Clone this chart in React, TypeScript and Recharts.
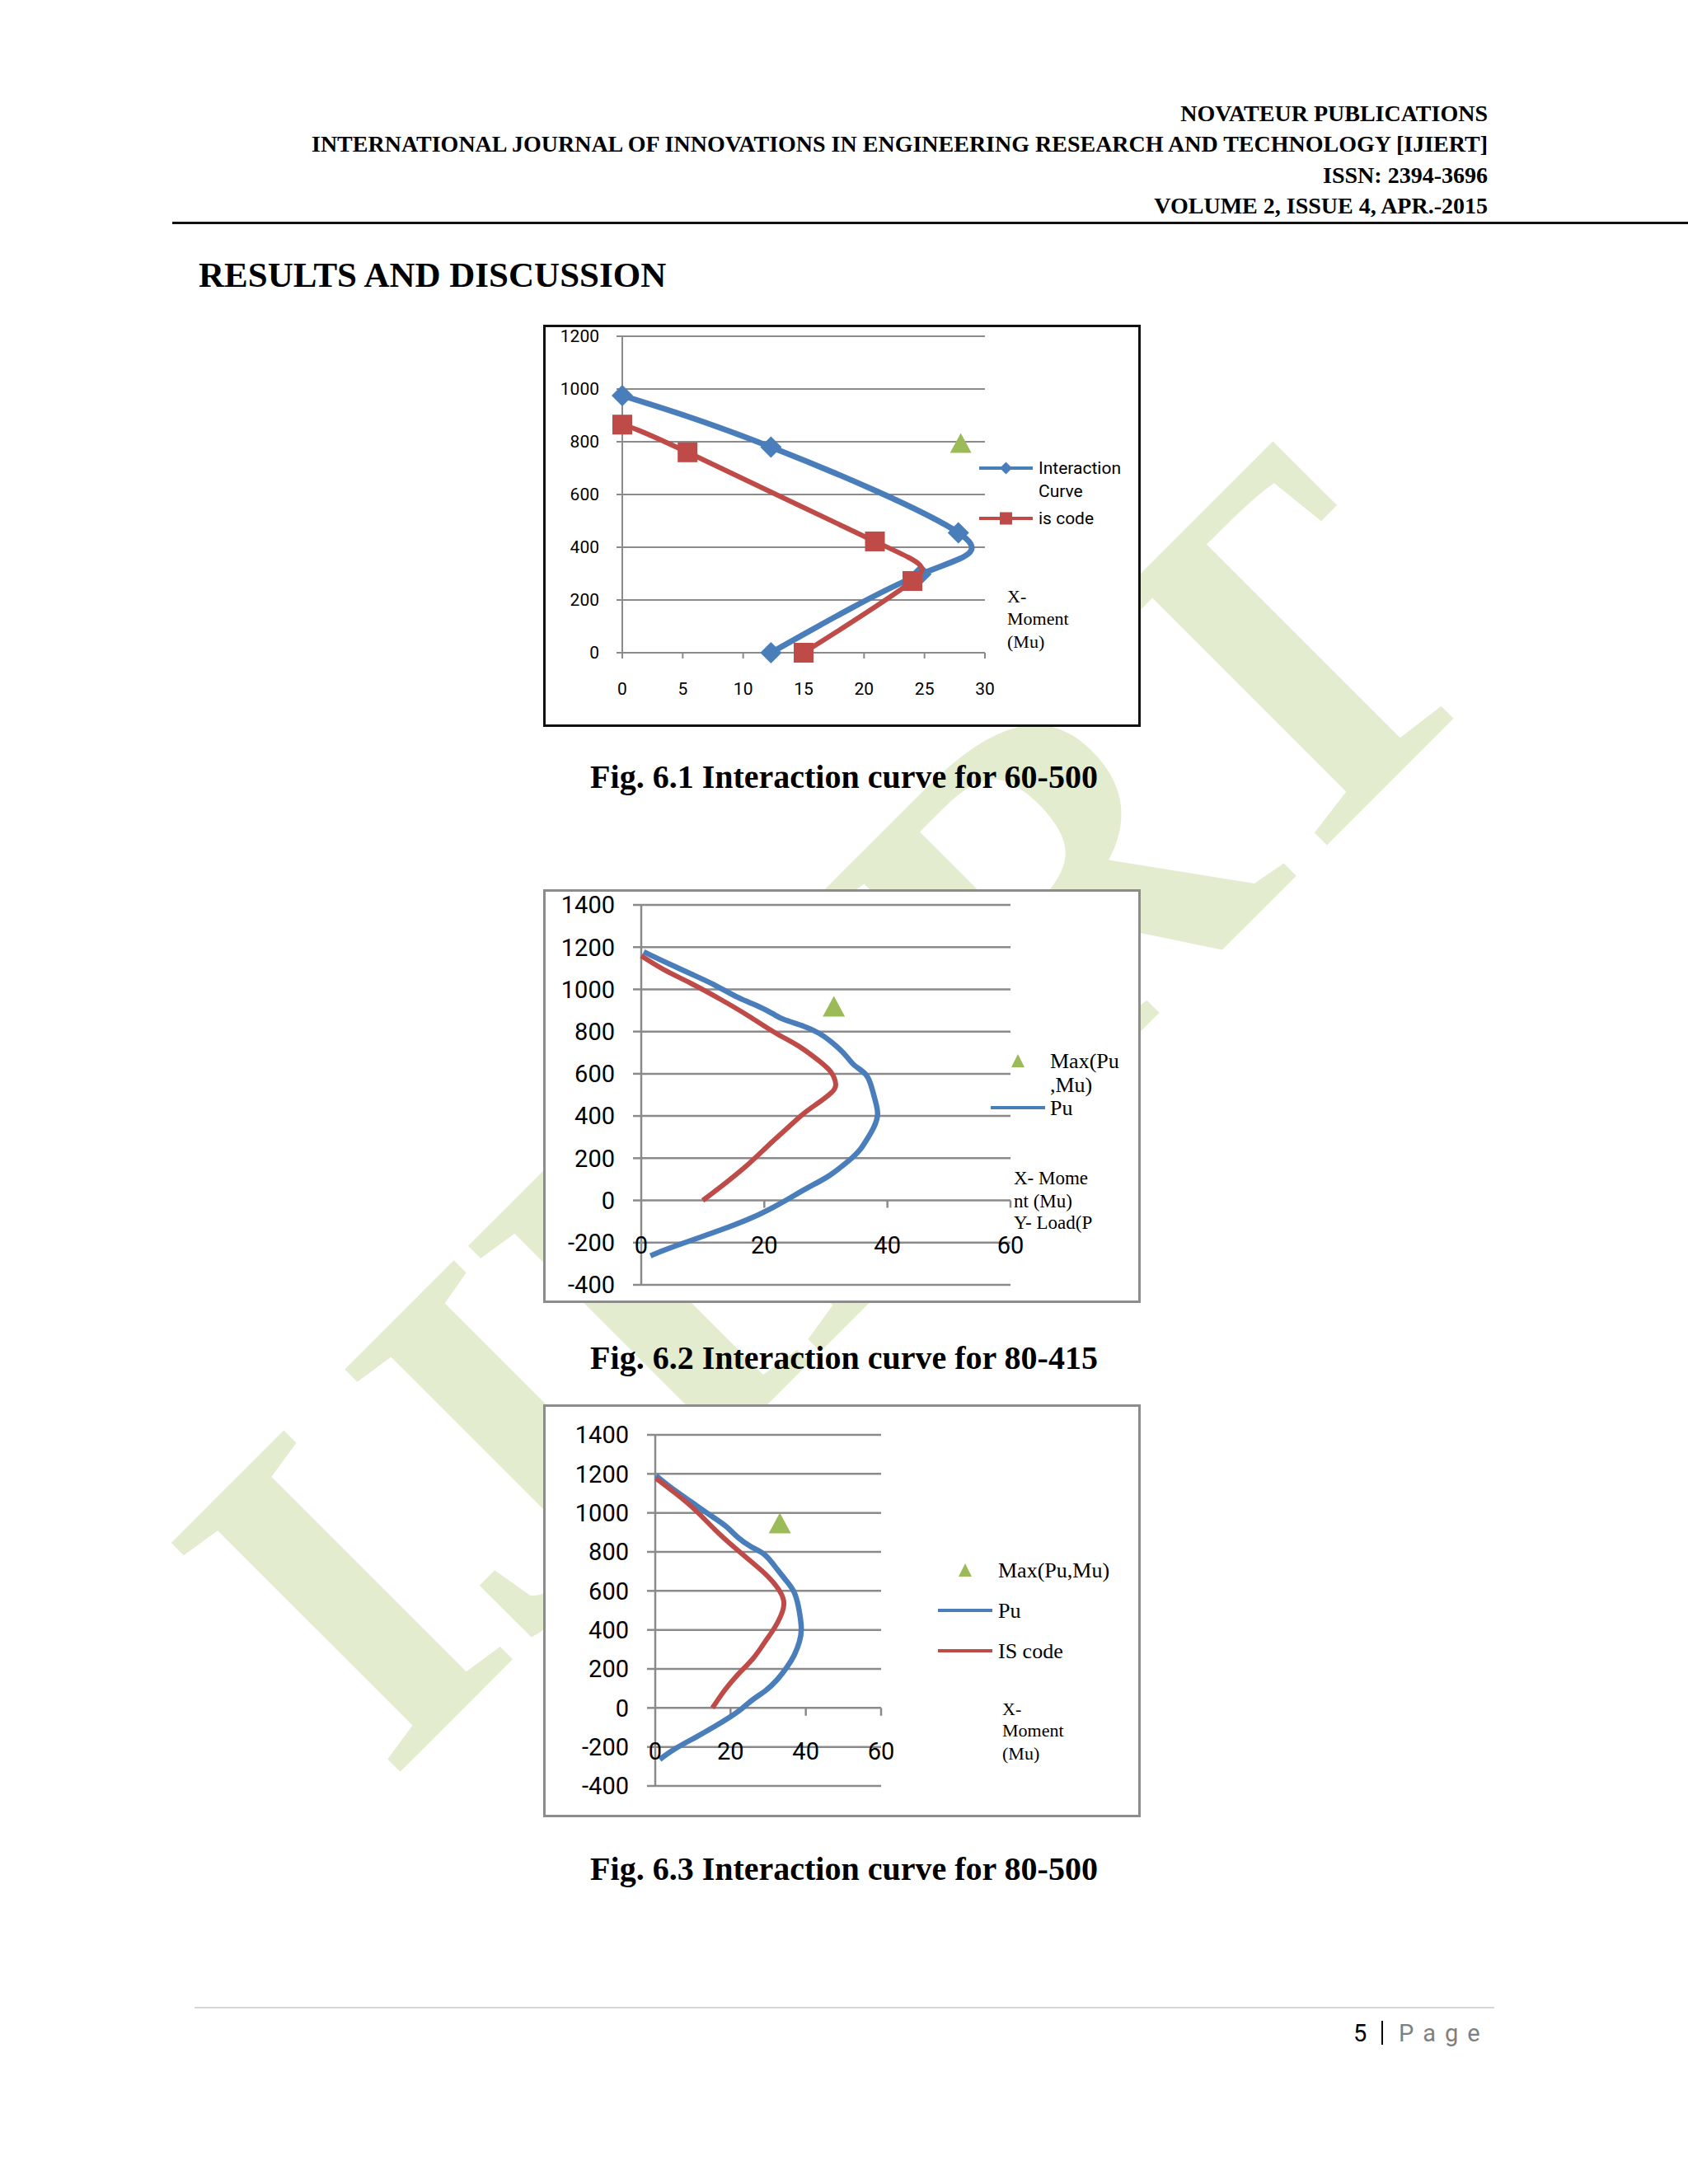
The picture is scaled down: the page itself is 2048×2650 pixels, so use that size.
import React from 'react'
import { ScatterChart, Scatter, XAxis, YAxis, CartesianGrid, ReferenceLine } from 'recharts'

type Pt = { x: number; y: number }

// Fig. 6.1 — 60-500
const fig1Interaction: Pt[] = [
  { x: 0, y: 975 }, { x: 12.3, y: 780 }, { x: 27.8, y: 455 }, { x: 24.7, y: 298 }, { x: 12.3, y: 0 },
]
const fig1IsCode: Pt[] = [
  { x: 0, y: 865 }, { x: 5.4, y: 760 }, { x: 20.9, y: 422 }, { x: 24.0, y: 272 }, { x: 15.0, y: 0 },
]
const fig1Max: Pt[] = [{ x: 28, y: 795 }]
const fig1XTicks = [0, 5, 10, 15, 20, 25, 30]
const fig1YTicks = [0, 200, 400, 600, 800, 1000, 1200]

// Fig. 6.2 — 80-415
const fig2Pu: Pt[] = [
  { x: 0.4, y: 1178 }, { x: 3.7, y: 1132 }, { x: 8.1, y: 1073 }, { x: 11.9, y: 1021 }, { x: 15.7, y: 962 },
  { x: 18.8, y: 923 }, { x: 21.4, y: 884 }, { x: 23.2, y: 857 }, { x: 26.4, y: 825 }, { x: 28.9, y: 792 },
  { x: 30.8, y: 753 }, { x: 33.0, y: 694 }, { x: 34.6, y: 641 }, { x: 36.5, y: 596 }, { x: 37.5, y: 530 },
  { x: 38.1, y: 465 }, { x: 38.4, y: 406 }, { x: 37.8, y: 347 }, { x: 36.8, y: 295 }, { x: 35.6, y: 242 },
  { x: 34.3, y: 203 }, { x: 32.7, y: 164 }, { x: 30.2, y: 111 }, { x: 27.0, y: 59 }, { x: 23.9, y: 7 },
  { x: 21.4, y: -33 }, { x: 18.2, y: -79 }, { x: 14.4, y: -124 }, { x: 10.6, y: -164 }, { x: 6.8, y: -203 },
  { x: 3.7, y: -236 }, { x: 1.5, y: -262 },
]
const fig2IsCode: Pt[] = [
  { x: 0, y: 1159 }, { x: 3.7, y: 1093 }, { x: 8.1, y: 1028 }, { x: 13.1, y: 949 }, { x: 17.6, y: 871 },
  { x: 21.9, y: 792 }, { x: 25.8, y: 727 }, { x: 28.9, y: 661 }, { x: 30.8, y: 609 }, { x: 31.6, y: 550 },
  { x: 30.9, y: 511 }, { x: 28.9, y: 465 }, { x: 26.4, y: 412 }, { x: 23.9, y: 347 }, { x: 20.7, y: 262 },
  { x: 17.6, y: 177 }, { x: 13.8, y: 85 }, { x: 10.0, y: 0 },
]
const fig2Max: Pt[] = [{ x: 31.3, y: 920 }]
const fig2XTicks = [0, 20, 40, 60]
const fig2YTicks = [-400, -200, 0, 200, 400, 600, 800, 1000, 1200, 1400]

// Fig. 6.3 — 80-500
const fig3Pu: Pt[] = [
  { x: 0.2, y: 1191 }, { x: 4.3, y: 1128 }, { x: 9.5, y: 1057 }, { x: 14.7, y: 987 }, { x: 18.8, y: 931 },
  { x: 21.9, y: 875 }, { x: 25.6, y: 825 }, { x: 29.2, y: 783 }, { x: 32.3, y: 713 }, { x: 34.9, y: 650 },
  { x: 36.9, y: 593 }, { x: 38.0, y: 523 }, { x: 38.5, y: 467 }, { x: 38.8, y: 404 }, { x: 38.3, y: 340 },
  { x: 36.9, y: 270 }, { x: 34.9, y: 207 }, { x: 32.3, y: 143 }, { x: 29.2, y: 87 }, { x: 26.1, y: 45 },
  { x: 23.0, y: -4 }, { x: 19.9, y: -46 }, { x: 15.7, y: -96 }, { x: 10.6, y: -152 }, { x: 5.4, y: -208 },
  { x: 1.2, y: -264 },
]
const fig3IsCode: Pt[] = [
  { x: 0.2, y: 1177 }, { x: 5.4, y: 1100 }, { x: 10.6, y: 1015 }, { x: 15.7, y: 917 }, { x: 20.9, y: 825 },
  { x: 25.6, y: 748 }, { x: 29.7, y: 678 }, { x: 32.8, y: 607 }, { x: 34.1, y: 551 }, { x: 33.8, y: 495 },
  { x: 31.7, y: 411 }, { x: 29.2, y: 340 }, { x: 26.1, y: 256 }, { x: 22.0, y: 172 }, { x: 18.3, y: 87 },
  { x: 15.2, y: 0 },
]
const fig3Max: Pt[] = [{ x: 33.1, y: 948 }]
const fig3XTicks = [0, 20, 40, 60]
const fig3YTicks = [-400, -200, 0, 200, 400, 600, 800, 1000, 1200, 1400]

const headerLines = [
  'NOVATEUR PUBLICATIONS',
  'INTERNATIONAL JOURNAL OF INNOVATIONS IN ENGINEERING RESEARCH AND TECHNOLOGY [IJIERT]',
  'ISSN: 2394-3696',
  'VOLUME 2, ISSUE 4, APR.-2015',
]
const sectionTitle = 'RESULTS AND DISCUSSION'
const captions = [
  'Fig. 6.1 Interaction curve for 60-500',
  'Fig. 6.2 Interaction curve for 80-415',
  'Fig. 6.3 Interaction curve for 80-500',
]

const BLUE = '#4a7ebb'
const RED = '#be4b48'
const GREEN = '#9bbb59'
const GRID = '#8a8a8a'
const SERIF = '"Liberation Serif", "Times New Roman", serif'
const SANS = 'Roboto, "Liberation Sans", sans-serif'

const diamond = (d: number, fill: string) => (p: any) => {
  const { cx, cy } = p
  const r = d / 2
  return <polygon points={`${cx},${cy - r} ${cx + r},${cy} ${cx},${cy + r} ${cx - r},${cy}`} fill={fill} />
}
const square = (s: number, fill: string) => (p: any) => (
  <rect x={p.cx - s / 2} y={p.cy - s / 2} width={s} height={s} fill={fill} />
)
const triangle = (w: number, h: number, fill: string) => (p: any) => {
  const { cx, cy } = p
  return <polygon points={`${cx},${cy - h / 2} ${cx + w / 2},${cy + h / 2} ${cx - w / 2},${cy + h / 2}`} fill={fill} />
}
const noDot = () => <g />

type LegendItem = { lines: string[]; color: string; marker: 'diamond' | 'square' | 'triangle' | 'line' }

function LegendSvg(props: {
  w: number
  h: number
  items: LegendItem[]
  ys: number[]
  x1: number
  x2: number
  tx: number
  gap: number
  font: string
  size: number
  note: string[]
  noteX: number
  noteYs: number[]
  noteSize: number
  markerSize: number
}) {
  const { items, ys, x1, x2, tx, gap, font, size, note, noteX, noteYs, noteSize, markerSize: m } = props
  const mx = (x1 + x2) / 2
  return (
    <svg width={props.w} height={props.h} style={{ position: 'absolute', left: 0, top: 0, pointerEvents: 'none' }}>
      {items.map((it, i) => {
        const y = ys[i]
        return (
          <g key={i}>
            {it.marker !== 'triangle' && <line x1={x1} x2={x2} y1={y} y2={y} stroke={it.color} strokeWidth={4} />}
            {it.marker === 'diamond' && (
              <polygon points={`${mx},${y - m / 2} ${mx + m / 2},${y} ${mx},${y + m / 2} ${mx - m / 2},${y}`} fill={it.color} />
            )}
            {it.marker === 'square' && <rect x={mx - m / 2} y={y - m / 2} width={m} height={m} fill={it.color} />}
            {it.marker === 'triangle' && (
              <polygon points={`${mx},${y - m / 2} ${mx + m / 2},${y + m / 2} ${mx - m / 2},${y + m / 2}`} fill={it.color} />
            )}
            {it.lines.map((t, j) => (
              <text key={j} x={tx} y={y + j * gap} dominantBaseline="central" fontFamily={font} fontSize={size} fill="#000">
                {t}
              </text>
            ))}
          </g>
        )
      })}
      {note.map((t, j) => (
        <text key={j} x={noteX} y={noteYs[j]} dominantBaseline="central" fontFamily={SERIF} fontSize={noteSize} fill="#000">
          {t}
        </text>
      ))}
    </svg>
  )
}

const frame = (left: number, top: number, width: number, height: number, border: string): React.CSSProperties => ({
  position: 'absolute',
  left,
  top,
  width,
  height,
  border,
  boxSizing: 'border-box',
  background: '#fff',
})

function Fig1() {
  const tick = { fill: '#000', fontSize: 21, fontFamily: SANS }
  const stroke = { stroke: GRID, strokeWidth: 2 }
  return (
    <div style={frame(659, 394, 725, 488, '3px solid #111')}>
      <ScatterChart width={719} height={482} margin={{ top: 11, right: 186, bottom: 0, left: 33 }}>
        <CartesianGrid vertical={false} stroke={GRID} strokeWidth={2} />
        <XAxis type="number" dataKey="x" domain={[0, 30]} ticks={fig1XTicks} interval={0} height={87}
          tickSize={7} tickMargin={29} axisLine={stroke} tickLine={stroke} tick={tick} />
        <YAxis type="number" dataKey="y" domain={[0, 1200]} ticks={fig1YTicks} interval={0} width={60}
          tickSize={7} tickMargin={21} axisLine={stroke} tickLine={stroke} tick={tick} />
        <Scatter data={fig1Interaction} line={{ stroke: BLUE, strokeWidth: 7 }} lineJointType="natural"
          shape={diamond(26, BLUE)} isAnimationActive={false} />
        <Scatter data={fig1IsCode} line={{ stroke: RED, strokeWidth: 6 }} lineJointType="natural"
          shape={square(24, RED)} isAnimationActive={false} />
        <Scatter data={fig1Max} shape={triangle(26, 24, GREEN)} isAnimationActive={false} />
      </ScatterChart>
      <LegendSvg w={719} h={482}
        items={[
          { lines: ['Interaction', 'Curve'], color: BLUE, marker: 'diamond' },
          { lines: ['is code'], color: RED, marker: 'square' },
        ]}
        ys={[171, 232]} x1={526} x2={591} tx={598} gap={28} font={SANS} size={21} markerSize={15}
        note={['X-', 'Moment', '(Mu)']} noteX={560} noteYs={[326, 353, 381]} noteSize={22} />
    </div>
  )
}

function BigFig(props: {
  top: number
  height: number
  margin: { top: number; right: number; bottom: number; left: number }
  yWidth: number
  xMargin: number
  tickLen: number
  pu: Pt[]
  isCode: Pt[]
  max: Pt[]
  xTicks: number[]
  yTicks: number[]
  children?: React.ReactNode
}) {
  const tick = { fill: '#000', fontSize: 29, fontFamily: SANS }
  const stroke = { stroke: GRID, strokeWidth: 2.5 }
  const innerH = props.height - 6
  return (
    <div style={frame(659, props.top, 725, props.height, '3px solid #8c8c8c')}>
      <ScatterChart width={719} height={innerH} margin={props.margin}>
        <CartesianGrid vertical={false} stroke={GRID} strokeWidth={2.5} />
        <XAxis type="number" dataKey="x" domain={[0, 60]} ticks={props.xTicks} interval={0} mirror
          axisLine={false} tickLine={false} tickSize={0} tickMargin={props.xMargin} tick={tick} />
        <YAxis type="number" dataKey="y" domain={[-400, 1400]} ticks={props.yTicks} interval={0} width={props.yWidth}
          tickSize={10} tickMargin={22} axisLine={stroke} tickLine={stroke} tick={tick} />
        {props.xTicks.slice(1).map((v) => (
          <ReferenceLine key={v} segment={[{ x: v, y: 0 }, { x: v, y: -props.tickLen }]} stroke={GRID} strokeWidth={2.5} />
        ))}
        <Scatter data={props.pu} line={{ stroke: BLUE, strokeWidth: 6.5 }} lineJointType="natural"
          shape={noDot} isAnimationActive={false} />
        <Scatter data={props.isCode} line={{ stroke: RED, strokeWidth: 6 }} lineJointType="natural"
          shape={noDot} isAnimationActive={false} />
        <Scatter data={props.max} shape={triangle(27, 25, GREEN)} isAnimationActive={false} />
      </ScatterChart>
      {props.children}
    </div>
  )
}

function Watermark() {
  const cx = 1005
  const cy = 1349
  return (
    <svg width={2048} height={2650} style={{ position: 'absolute', left: 0, top: 0 }}>
      <text x={cx} y={cy + 199} transform={`rotate(-45 ${cx} ${cy})`} textAnchor="middle"
        fontFamily={SERIF} fontWeight="bold" fontSize={600} fill="#e3ecce" letterSpacing={-12}>
        IJIERT
      </text>
    </svg>
  )
}

export default function App() {
  const headerCenters = [138, 175, 213, 250]
  const captionCenters = [943, 1648, 2268]
  return (
    <div style={{ position: 'absolute', left: 0, top: 0, width: 2048, height: 2650, background: '#fff', overflow: 'hidden' }}>
      <Watermark />
      {headerLines.map((t, i) => (
        <div key={i} style={{
          position: 'absolute', right: 243, top: headerCenters[i] - 14, fontFamily: SERIF, fontWeight: 'bold',
          fontSize: 28, lineHeight: 1, whiteSpace: 'nowrap', color: '#000',
        }}>{t}</div>
      ))}
      <div style={{ position: 'absolute', left: 209, right: 0, top: 269, height: 3, background: '#111' }} />
      <div style={{
        position: 'absolute', left: 241, top: 312, fontFamily: SERIF, fontWeight: 'bold', fontSize: 43,
        lineHeight: 1, whiteSpace: 'nowrap', color: '#000',
      }}>{sectionTitle}</div>

      <Fig1 />

      <BigFig top={1079} height={502} margin={{ top: 16, right: 155, bottom: 19, left: 26 }} yWidth={90}
        xMargin={38} tickLen={35} pu={fig2Pu} isCode={fig2IsCode} max={fig2Max} xTicks={fig2XTicks} yTicks={fig2YTicks}>
        <LegendSvg w={719} h={496}
          items={[
            { lines: ['Max(Pu', ',Mu)'], color: GREEN, marker: 'triangle' },
            { lines: ['Pu'], color: BLUE, marker: 'line' },
          ]}
          ys={[205, 262]} x1={540} x2={606} tx={612} gap={29} font={SERIF} size={26} markerSize={16}
          note={['X- Mome', 'nt (Mu)', 'Y- Load(P']} noteX={568} noteYs={[347, 375, 401]} noteSize={23} />
      </BigFig>

      <BigFig top={1704} height={501} margin={{ top: 34, right: 312, bottom: 35, left: 42 }} yWidth={91}
        xMargin={32} tickLen={40} pu={fig3Pu} isCode={fig3IsCode} max={fig3Max} xTicks={fig3XTicks} yTicks={fig3YTicks}>
        <LegendSvg w={719} h={495}
          items={[
            { lines: ['Max(Pu,Mu)'], color: GREEN, marker: 'triangle' },
            { lines: ['Pu'], color: BLUE, marker: 'line' },
            { lines: ['IS code'], color: RED, marker: 'line' },
          ]}
          ys={[198, 247, 296]} x1={476} x2={542} tx={549} gap={30} font={SERIF} size={26} markerSize={16}
          note={['X-', 'Moment', '(Mu)']} noteX={554} noteYs={[366, 392, 420]} noteSize={22} />
      </BigFig>

      {captions.map((c, i) => (
        <div key={i} style={{
          position: 'absolute', left: 0, width: 2048, top: captionCenters[i] - 20, textAlign: 'center',
          fontFamily: SERIF, fontWeight: 'bold', fontSize: 40, lineHeight: 1, color: '#000',
        }}>{c}</div>
      ))}

      <div style={{ position: 'absolute', left: 236, width: 1577, top: 2435, height: 2, background: '#d6d6d6' }} />
      <div style={{ position: 'absolute', left: 1642, top: 2453, fontFamily: SANS, fontSize: 29, lineHeight: 1, color: '#000' }}>5</div>
      <div style={{ position: 'absolute', left: 1676, top: 2452, width: 2, height: 29, background: '#000' }} />
      <div style={{
        position: 'absolute', left: 1697, top: 2453, fontFamily: SANS, fontSize: 29, lineHeight: 1, color: '#7f7f7f',
        letterSpacing: 11, whiteSpace: 'nowrap',
      }}>Page</div>
    </div>
  )
}
